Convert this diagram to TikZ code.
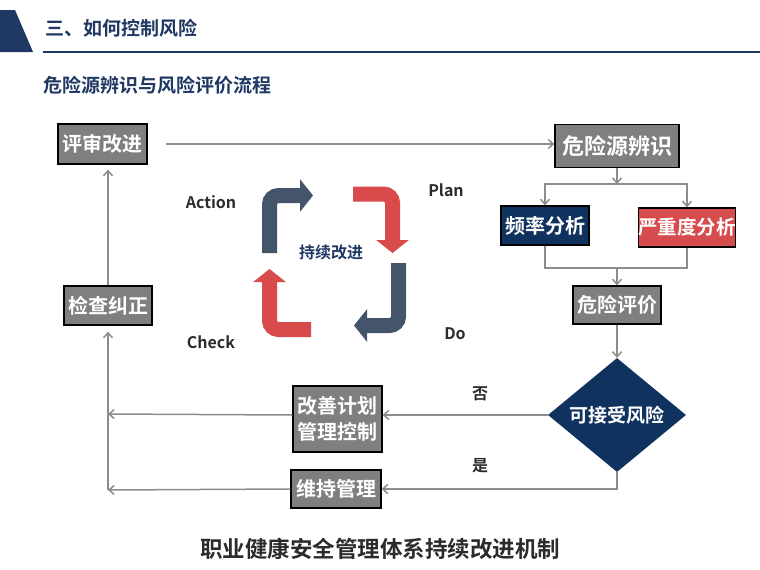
\documentclass[tikz,border=0pt]{standalone}
\usepackage{fontspec}
\setmainfont{Noto Sans CJK SC}[BoldFont={Noto Sans CJK SC Bold}]
\usetikzlibrary{arrows.meta,shapes.geometric}
\definecolor{navy}{HTML}{1F3864}
\definecolor{boxnavy}{HTML}{10325F}
\definecolor{boxred}{HTML}{D64B4B}
\definecolor{boxgray}{HTML}{7F7F7F}
\definecolor{linegray}{HTML}{8C8C8C}
\definecolor{cycnavy}{HTML}{44546A}
\definecolor{cycred}{HTML}{D94A4A}
\definecolor{txtdark}{HTML}{2B2B2B}
\tikzset{
  graybox/.style={draw=black, line width=1.3pt, fill=boxgray, text=white, font=\bfseries\fontsize{20}{24}\selectfont, inner sep=0pt, align=center},
  conn/.style={draw=linegray, line width=1.5pt, -{Straight Barb[length=5pt,width=9pt]}},
  plainline/.style={draw=linegray, line width=1.5pt},
  lbl/.style={text=txtdark, font=\bfseries\fontsize{16}{19}\selectfont},
  cyc/.style={line width=15pt, rounded corners=9pt, -{Triangle[length=13pt,width=32pt]}}
}
\begin{document}
\begin{tikzpicture}[x=1pt,y=-1pt]
\useasboundingbox (0,0) rectangle (760,570);
% header
\fill[navy] (0,10) -- (15,10) -- (33,52) -- (0,52) -- cycle;
\draw[navy, line width=2pt] (43,52) -- (760,52);
\node[anchor=west, text=navy, font=\bfseries\fontsize{19}{22}\selectfont, inner sep=0pt] (title) at (45,28) {三、如何控制风险};
\node[anchor=west, text=navy, font=\bfseries\fontsize{19}{22}\selectfont, inner sep=0pt] (subtitle) at (43,85) {危险源辨识与风险评价流程};

% boxes
\node[graybox, minimum width=89pt, minimum height=40pt] (review) at (102.5,144) {评审改进};
\node[graybox, minimum width=88pt, minimum height=39pt] (check) at (108,305.5) {检查纠正};
\node[graybox, minimum width=124pt, minimum height=43pt, font=\bfseries\fontsize{22}{26}\selectfont] (hazard) at (617,146) {危险源辨识};
\node[graybox, fill=boxnavy, minimum width=88pt, minimum height=39pt] (freq) at (545,225.5) {频率分析};
\node[graybox, fill=boxred, minimum width=96pt, minimum height=39pt, font=\bfseries\fontsize{19.5}{24}\selectfont] (sev) at (687,227.5) {严重度分析};
\node[graybox, minimum width=88pt, minimum height=38pt] (eval) at (617,305) {危险评价};
\node[diamond, fill=boxnavy, text=white, inner sep=0pt, aspect=1.2, minimum width=138pt, minimum height=114pt, font=\bfseries\fontsize{19}{22}\selectfont] (accept) at (617,415) {可接受风险};
\node[graybox, minimum width=89pt, minimum height=66pt, font=\bfseries\fontsize{20}{26}\selectfont] (improve) at (337.5,419) {改善计划\\管理控制};
\node[graybox, minimum width=90pt, minimum height=38pt] (maintain) at (336,489) {维持管理};

% coordinates
\coordinate (br) at (617,184);
\coordinate (mg) at (617,268);
\coordinate (left1) at (108,414);
\coordinate (left2) at (108,490);

% connectors
\draw[conn] ([xshift=18pt]review.east) -- (hazard.west |- review.east);
\draw[conn] (hazard.south) -- (br);
\draw[conn] (br) -| (freq.north);
\draw[conn] (br) -| (sev.north);
\draw[plainline] (freq.south) |- (mg) -| (sev.south);
\draw[conn] (mg) -- (eval.north);
\draw[conn] (eval.south) -- (accept.north);
\draw[conn] (accept.west) -- (accept.west -| improve.east);
\draw[conn] (improve.west |- accept.west) -- (left1);
\draw[conn] (accept.south) |- (maintain.east);
\draw[conn] (maintain.west) -- (left2);
\draw[conn, shorten >=6pt] (left2) -- (check.south);
\draw[conn, shorten >=5pt] (check.north) -- (check.north |- review.south);

% labels
\node[lbl] (act) at (211,202) {Action};
\node[lbl] (plan) at (446,190) {Plan};
\node[lbl] (chk) at (211,342) {Check};
\node[lbl] (do) at (455,334) {Do};
\node[lbl] (no) at (480,394) {否};
\node[lbl] (yes) at (480,466) {是};

% cycle
\draw[cyc, cycnavy] (269.5,253) -- (269.5,195.5) -- (313,195.5);
\draw[cyc, cycred] (353,194) -- (392.5,194) -- (392.5,253);
\draw[cyc, cycnavy] (398.5,263) -- (398.5,325.5) -- (354,325.5);
\draw[cyc, cycred] (311,329.5) -- (269.5,329.5) -- (269.5,269);
\node[text=navy, font=\bfseries\fontsize{16}{19}\selectfont] (cont) at (331,252) {持续改进};

% bottom title
\node[text=txtdark, font=\bfseries\fontsize{22.5}{26}\selectfont] (bottom) at (380,549) {职业健康安全管理体系持续改进机制};
\end{tikzpicture}
\end{document}
